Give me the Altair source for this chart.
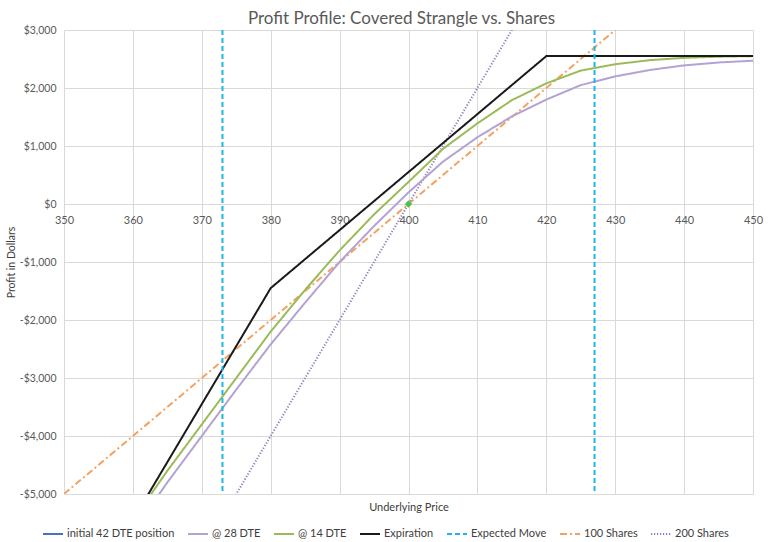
import altair as alt
import pandas as pd

# ---- data ----
x_vals = [350, 355, 360, 365, 370, 375, 380, 385, 390, 395, 400,
          405, 410, 415, 420, 425, 430, 435, 440, 445, 450]
dte28 = [-7400, -6550, -5650, -4800, -4000, -3200, -2420, -1700, -1000, -380, 200,
         730, 1150, 1510, 1800, 2050, 2200, 2310, 2390, 2440, 2470]
dte14 = [-7100, -6300, -5450, -4600, -3800, -3000, -2200, -1480, -800, -180, 380,
         950, 1390, 1790, 2080, 2300, 2410, 2480, 2520, 2540, 2550]
expiration = [-7450, -6450, -5450, -4450, -3450, -2450, -1450, -950, -450, 50, 550,
              1050, 1550, 2050, 2550, 2550, 2550, 2550, 2550, 2550, 2550]
shares100 = [-5000, -4500, -4000, -3500, -3000, -2500, -2000, -1500, -1000, -500, 0,
             500, 1000, 1500, 2000, 2500, 3000, 3500, 4000, 4500, 5000]
shares200 = [-10000, -9000, -8000, -7000, -6000, -5000, -4000, -3000, -2000, -1000, 0,
             1000, 2000, 3000, 4000, 5000, 6000, 7000, 8000, 9000, 10000]
expected_move = [373, 427]
initial_price = [400]
initial_profit = [0]

x_ticks = [350, 360, 370, 380, 390, 400, 410, 420, 430, 440, 450]
y_ticks = [-5000, -4000, -3000, -2000, -1000, 0, 1000, 2000, 3000]

series_order = ["initial 42 DTE position", "@ 28 DTE", "@ 14 DTE", "Expiration",
                "Expected Move", "100 Shares", "200 Shares"]
series_colors = ["#4472C4", "#B4A2D4", "#9BBB59", "#1A1A1A",
                 "#1FB5EA", "#F4A261", "#8E7CC3"]
series_dashes = [[1, 0], [1, 0], [1, 0], [1, 0], [5, 3], [7, 3, 2, 3], [1.2, 1.8]]
series_widths = [2, 2, 2, 2, 2, 1.6, 1.2]

rows = []
for name, vals in [("100 Shares", shares100), ("200 Shares", shares200),
                   ("@ 28 DTE", dte28), ("@ 14 DTE", dte14),
                   ("Expiration", expiration)]:
    for x, y in zip(x_vals, vals):
        rows.append({"price": x, "profit": y, "series": name})
lines_df = pd.DataFrame(rows)
rules_df = pd.DataFrame({"price": expected_move, "series": ["Expected Move"] * len(expected_move)})
point_df = pd.DataFrame({"price": initial_price, "profit": initial_profit})

W, H = 689, 464
zero_from_bottom = H * 5000 / 8000

color_scale = alt.Scale(domain=series_order, range=series_colors)
dash_scale = alt.Scale(domain=series_order, range=series_dashes)
width_scale = alt.Scale(domain=series_order, range=series_widths)

legend = alt.Legend(orient="none", legendX=-22, legendY=493, direction="horizontal",
                    columns=7, title=None, symbolType="stroke", symbolSize=400,
                    symbolStrokeWidth=2, labelFontSize=11, labelColor="#404040",
                    columnPadding=9, labelOffset=3)

x_enc = alt.X("price:Q",
              scale=alt.Scale(domain=[350, 450], nice=False, zero=False),
              axis=alt.Axis(values=x_ticks, grid=True, ticks=False, domain=False,
                            offset=-zero_from_bottom, labelPadding=10, labelFlush=False,
                            labelFontSize=11, labelColor="#595959",
                            title="Underlying Price", titleFontSize=11,
                            titleFontWeight="normal", titleColor="#404040",
                            titleY=zero_from_bottom + 13, titleBaseline="middle"))
y_enc = alt.Y("profit:Q",
              scale=alt.Scale(domain=[-5000, 3000], nice=False, zero=False),
              axis=alt.Axis(values=y_ticks, grid=True, ticks=False, domain=False,
                            labelExpr="datum.value < 0 ? '-$' + format(-datum.value, ',') : '$' + format(datum.value, ',')",
                            labelFontSize=10.5, labelColor="#595959", labelPadding=8,
                            title="Profit in Dollars", titleFontSize=10.5,
                            titleFontWeight="normal", titleColor="#404040", titlePadding=3))

lines = alt.Chart(lines_df).mark_line(clip=True).encode(
    x=x_enc, y=y_enc,
    color=alt.Color("series:N", scale=color_scale, legend=legend),
    strokeDash=alt.StrokeDash("series:N", scale=dash_scale, legend=legend),
    strokeWidth=alt.StrokeWidth("series:N", scale=width_scale, legend=None),
    order=alt.value(0),
)

rules = alt.Chart(rules_df).mark_rule(strokeWidth=2).encode(
    x=alt.X("price:Q"),
    color=alt.Color("series:N", scale=color_scale, legend=legend),
    strokeDash=alt.StrokeDash("series:N", scale=dash_scale, legend=legend),
)

point = alt.Chart(point_df).mark_point(shape="diamond", filled=True, size=55,
                                       color="#4CC24C", opacity=1).encode(
    x=alt.X("price:Q"), y=alt.Y("profit:Q"))

chart = alt.layer(lines, rules, point).properties(
    width=W, height=H,
    title=alt.TitleParams("Profit Profile: Covered Strangle vs. Shares", fontSize=17,
                          color="#595959", fontWeight="normal", anchor="middle",
                          offset=-3, dx=-7),
    autosize=alt.AutoSizeParams(type="none"),
    padding={"left": 64, "top": 30, "right": 15, "bottom": 48},
).configure(font="Lato").configure_view(stroke=None).configure_axis(
    gridColor="#D9D9D9", gridWidth=1)

chart.save("out.html", embed_options={"renderer": "svg", "actions": False})
